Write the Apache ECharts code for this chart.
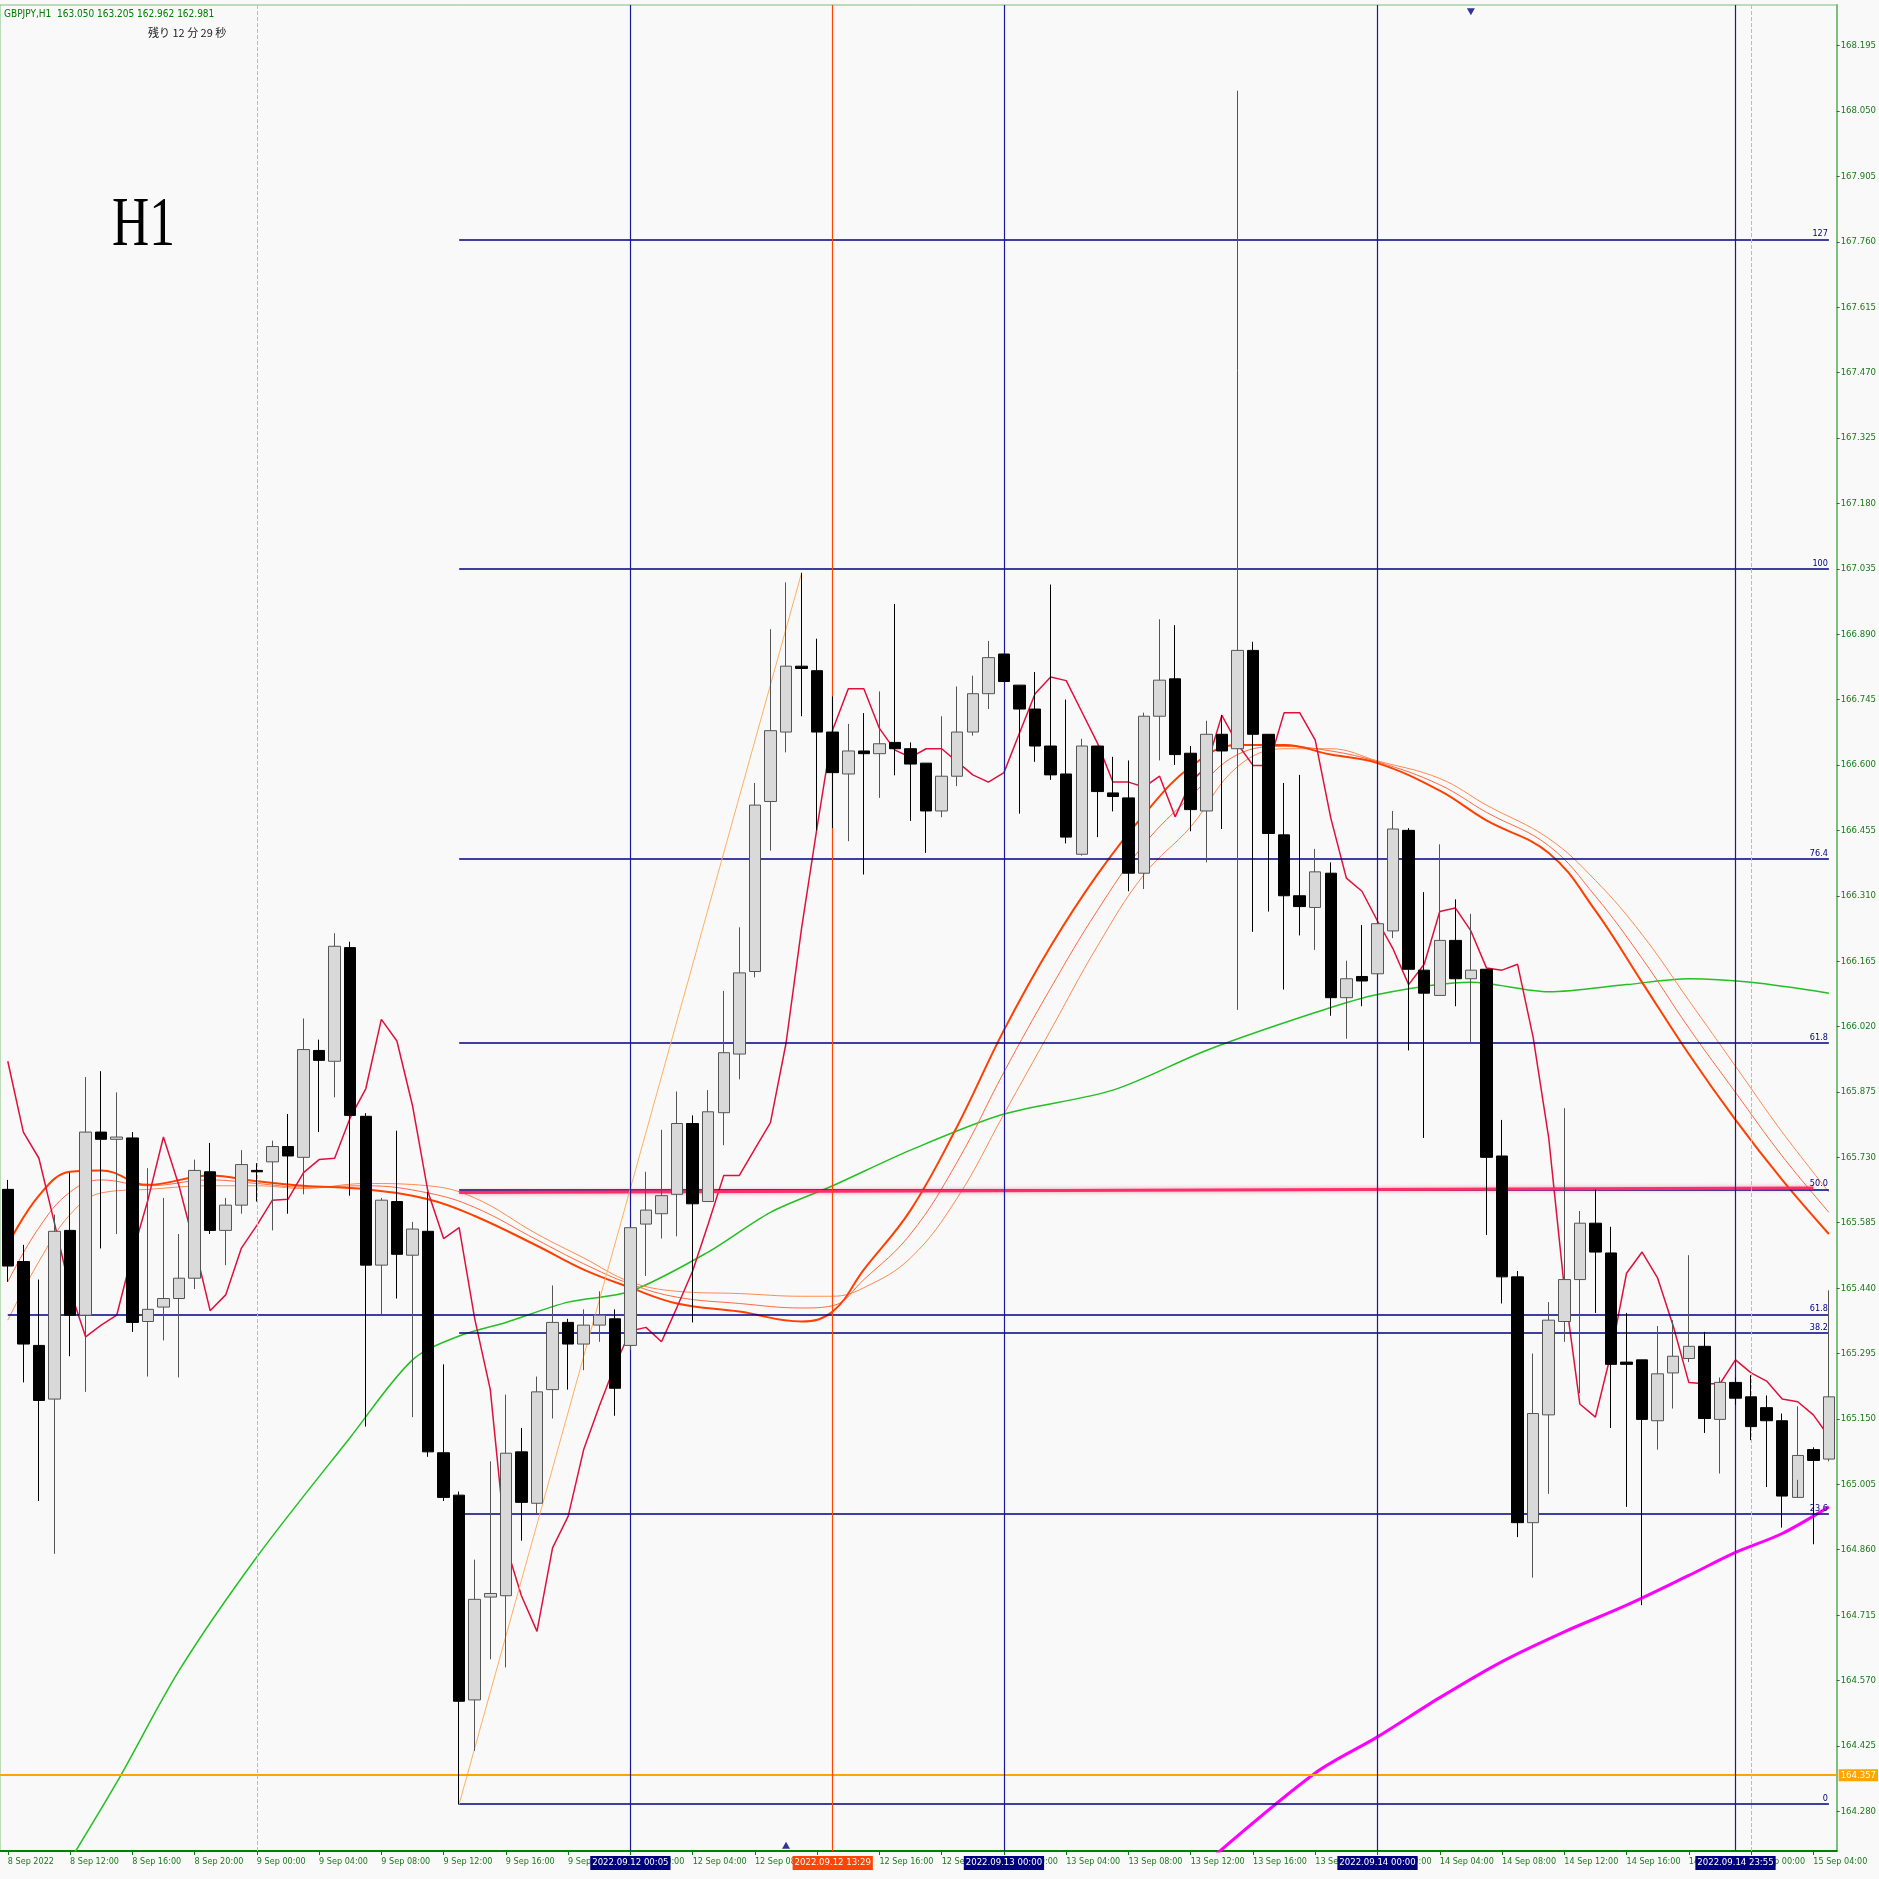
<!DOCTYPE html>
<html><head><meta charset="utf-8">
<script src="https://cdn.jsdelivr.net/npm/echarts@6/dist/echarts.min.js"></script>
<style>html,body{margin:0;padding:0;background:#f9f9f9}#c{width:1879px;height:1879px}</style>
</head><body><div id="c"></div>
<script>
const xTickLabels=["8 Sep 2022","8 Sep 12:00","8 Sep 16:00","8 Sep 20:00","9 Sep 00:00","9 Sep 04:00","9 Sep 08:00","9 Sep 12:00","9 Sep 16:00","9 Sep 20:00","12 Sep 00:00","12 Sep 04:00","12 Sep 08:00","12 Sep 12:00","12 Sep 16:00","12 Sep 20:00","13 Sep 00:00","13 Sep 04:00","13 Sep 08:00","13 Sep 12:00","13 Sep 16:00","13 Sep 20:00","14 Sep 00:00","14 Sep 04:00","14 Sep 08:00","14 Sep 12:00","14 Sep 16:00","14 Sep 20:00","15 Sep 00:00","15 Sep 04:00"];
const yTicks=[164.280,164.425,164.570,164.715,164.860,165.005,165.150,165.295,165.440,165.585,165.730,165.875,166.020,166.165,166.310,166.455,166.600,166.745,166.890,167.035,167.180,167.325,167.470,167.615,167.760,167.905,168.050,168.195];
const opens=[165.659,165.499,165.313,165.194,165.568,165.380,165.786,165.770,165.773,165.366,
165.398,165.417,165.462,165.698,165.568,165.624,165.701,165.720,165.754,165.730,
165.967,165.943,166.195,165.821,165.491,165.632,165.513,165.566,165.075,164.981,
164.527,164.755,164.758,165.077,164.963,165.215,165.364,165.316,165.358,165.372,
165.313,165.582,165.605,165.648,165.805,165.632,165.829,165.959,166.142,166.519,
166.673,166.819,166.809,166.673,166.580,166.631,166.625,166.650,166.636,166.604,
166.498,166.575,166.673,166.758,166.846,166.777,166.724,166.642,166.580,166.402,
166.642,166.538,166.527,166.360,166.708,166.791,166.626,166.498,166.668,166.636,
166.854,166.668,166.445,166.310,166.284,166.360,166.084,166.131,166.137,166.232,
166.455,166.145,166.089,166.211,166.126,166.147,165.733,165.465,164.920,165.159,
165.366,165.459,165.584,165.518,165.276,165.281,165.146,165.252,165.284,165.311,
165.149,165.231,165.199,165.175,165.146,164.976,165.082,165.061];
const closes=[165.489,165.316,165.191,165.566,165.380,165.786,165.770,165.775,165.364,165.393,
165.417,165.462,165.701,165.568,165.624,165.714,165.698,165.754,165.733,165.969,
165.945,166.198,165.823,165.491,165.635,165.515,165.571,165.077,164.976,164.524,
164.750,164.763,165.074,164.965,165.210,165.364,165.316,165.358,165.380,165.218,
165.574,165.613,165.645,165.805,165.627,165.831,165.962,166.139,166.511,166.676,
166.819,166.814,166.673,166.583,166.631,166.625,166.647,166.636,166.602,166.498,
166.575,166.673,166.758,166.838,166.785,166.724,166.642,166.578,166.440,166.642,
166.541,166.530,166.360,166.708,166.788,166.623,166.501,166.668,166.631,166.854,
166.668,166.448,166.310,166.286,166.363,166.084,166.126,166.121,166.248,166.458,
166.147,166.094,166.211,166.126,166.145,165.730,165.465,164.920,165.162,165.369,
165.459,165.584,165.520,165.271,165.271,165.149,165.250,165.289,165.311,165.151,
165.231,165.196,165.133,165.146,164.979,165.069,165.058,165.199];
const highs=[165.680,165.536,165.459,165.603,165.696,165.908,165.921,165.874,165.786,165.706,
165.640,165.560,165.725,165.762,165.640,165.746,165.717,165.767,165.826,166.038,
165.991,166.227,166.208,165.828,165.640,165.789,165.587,165.653,165.271,164.989,
164.838,165.056,165.204,165.130,165.244,165.446,165.372,165.393,165.433,165.393,
165.574,165.698,165.791,165.876,165.823,165.879,166.099,166.240,166.560,166.901,
167.005,167.026,166.880,166.752,166.691,166.715,166.763,166.957,166.650,166.604,
166.708,166.774,166.798,166.875,166.846,166.777,166.806,167.000,166.745,166.658,
166.642,166.618,166.610,166.716,166.923,166.910,166.642,166.698,166.711,168.095,
166.873,166.668,166.560,166.578,166.414,166.384,166.166,166.245,166.248,166.498,
166.460,166.318,166.424,166.302,166.270,166.147,165.813,165.478,165.295,165.409,
165.839,165.611,165.659,165.576,165.385,165.281,165.356,165.369,165.513,165.343,
165.242,165.242,165.247,165.202,165.162,165.178,165.087,165.435];
const lows=[165.454,165.231,164.968,164.851,165.289,165.210,165.528,165.560,165.343,165.244,
165.324,165.242,165.438,165.560,165.491,165.605,165.632,165.568,165.605,165.648,
165.786,165.863,165.645,165.133,165.382,165.417,165.154,165.066,164.968,164.295,
164.414,164.617,164.599,164.880,164.941,165.151,165.215,165.258,165.321,165.157,
165.303,165.467,165.550,165.555,165.364,165.632,165.757,165.903,166.129,166.410,
166.628,166.708,166.455,166.460,166.431,166.357,166.527,166.577,166.476,166.405,
166.484,166.553,166.665,166.724,166.785,166.492,166.607,166.567,166.426,166.399,
166.440,166.497,166.320,166.325,166.610,166.600,166.453,166.384,166.458,166.057,
166.230,166.275,166.102,166.222,166.190,166.044,165.993,166.065,166.137,166.216,
165.967,165.773,166.089,166.065,165.985,165.558,165.406,164.888,164.798,164.984,
165.321,165.207,165.385,165.130,164.955,164.737,165.082,165.173,165.276,165.119,
165.029,165.181,165.103,164.999,164.909,165.015,164.872,165.056];
const shortMA=[165.943,165.786,165.728,165.584,165.436,165.332,165.358,165.380,165.515,165.635,
165.775,165.667,165.534,165.390,165.425,165.528,165.579,165.635,165.637,165.696,
165.725,165.728,165.818,165.882,166.036,165.988,165.845,165.653,165.550,165.574,
165.372,165.215,164.870,164.758,164.679,164.864,164.934,165.082,165.178,165.268,
165.345,165.353,165.321,165.398,165.478,165.582,165.690,165.690,165.749,165.807,
165.983,166.238,166.463,166.678,166.769,166.769,166.681,166.633,166.617,166.636,
166.636,166.607,166.578,166.562,166.583,166.671,166.758,166.795,166.787,166.718,
166.649,166.562,166.562,166.551,166.575,166.485,166.562,166.596,166.710,166.647,
166.599,166.599,166.716,166.716,166.655,166.482,166.349,166.320,166.254,166.192,
166.113,166.158,166.275,166.283,166.232,166.150,166.145,166.158,165.996,165.773,
165.441,165.183,165.154,165.295,165.473,165.520,165.462,165.356,165.231,165.228,
165.228,165.281,165.252,165.234,165.194,165.188,165.159,165.111];
const ribbonIdx=[0,2,4,6,9,13,16,19,23,27,30,34,37,40,43,47,51,53,55,58,61,64,67,70,73,76,79,82,85,88,92,95,99,102,105,108,111,114,117];
const ribbonFast=[165.536,165.645,165.698,165.701,165.669,165.690,165.677,165.667,165.659,165.637,165.600,165.534,165.481,165.441,165.406,165.388,165.366,165.388,165.481,165.613,165.799,166.012,166.198,166.357,166.490,166.596,166.644,166.644,166.623,166.604,166.543,166.477,166.405,166.277,166.118,165.959,165.813,165.680,165.560];
const ribbonMid=[165.454,165.574,165.653,165.680,165.667,165.680,165.672,165.664,165.667,165.651,165.619,165.547,165.494,165.449,165.420,165.406,165.396,165.401,165.459,165.560,165.720,165.919,166.105,166.277,166.424,166.530,166.623,166.641,166.631,166.607,166.556,166.495,166.421,166.309,166.171,166.017,165.874,165.733,165.608];
const ribbonSlow=[165.369,165.499,165.603,165.651,165.659,165.667,165.667,165.661,165.672,165.667,165.640,165.560,165.507,165.454,165.433,165.428,165.422,165.422,165.441,165.507,165.640,165.826,166.012,166.198,166.357,166.463,166.596,166.636,166.636,166.609,166.570,166.511,166.437,166.344,166.224,166.078,165.932,165.786,165.653];
const greenIdx=[3,7,11,16,22,26,29,32,36,40,45,49,53,58,64,71,77,84,88,94,99,104,108,112,117];
const greenMA=[164.115,164.344,164.592,164.844,165.109,165.281,165.334,165.364,165.409,165.433,165.520,165.608,165.667,165.746,165.826,165.879,165.967,166.051,166.091,166.118,166.097,166.113,166.126,166.118,166.094];
const magIdx=[77,84,88,92,96,100,104,108,111,114,117];
const magentaMA=[164.166,164.365,164.445,164.532,164.612,164.678,164.737,164.803,164.854,164.896,164.955];
const fibNames=["127","100","76.4","61.8","50.0","38.2","23.6","0"];
const fibValues=[167.765,167.034,166.391,165.983,165.659,165.340,164.939,164.296];
const fullLineName="61.8", fullLineValue=165.382;
const orangeLevel=164.357;
const pinkLine=[165.652,165.662];
const vLines=[{i:40,t:"2022.09.12 00:05",c:"#1a1a9a",bg:"#000080"},{i:53,t:"2022.09.12 13:29",c:"#FF4500",bg:"#FF4500"},{i:64,t:"2022.09.13 00:00",c:"#1a1a9a",bg:"#000080"},{i:88,t:"2022.09.14 00:00",c:"#1a1a9a",bg:"#000080"},{i:111,t:"2022.09.14 23:55",c:"#1a1a9a",bg:"#000080"}];

const N=opens.length;
const cats=[];for(let i=0;i<N;i++)cats.push(String(i));
const candles=opens.map((o,i)=>[o,closes[i],lows[i],highs[i]]);
const pairs=(ix,v)=>ix.map((x,k)=>[x,v[k]]);
const FF="'DejaVu Sans Condensed','Liberation Sans Narrow',sans-serif";
const YMIN=164.192,YMAX=168.285;
const chart=echarts.init(document.getElementById('c'));
const fibData=fibNames.map((n,k)=>[{coord:['29',fibValues[k]],label:{formatter:n}},{coord:['117',fibValues[k]]}]);
fibData.push([{coord:['0',fullLineValue],label:{formatter:fullLineName}},{coord:['117',fullLineValue]}]);
chart.setOption({
 animation:false,backgroundColor:'#f9f9f9',
 grid:{left:0,right:30,top:5,bottom:28,show:true,borderColor:'#7dbf7d',borderWidth:1,backgroundColor:'#f9f9f9'},
 graphic:[
  {type:'text',left:4,top:9,style:{text:'GBPJPY,H1  163.050 163.205 162.962 162.981',fill:'#008000',font:"10px "+FF}},
  {type:'text',left:148,top:27,style:{text:'残り 12 分 29 秒',fill:'#222',font:"11px 'Noto Sans CJK JP'"}},
  {type:'text',x:112,y:192,scaleX:0.78,scaleY:1.05,style:{text:'H1',fill:'#000',font:"66px 'Liberation Serif','DejaVu Serif',serif"}}
 ],
 xAxis:{type:'category',data:cats,boundaryGap:true,
  axisLine:{lineStyle:{color:'#008000',width:2}},
  axisTick:{show:true,interval:(i)=>i%4===0,alignWithLabel:true,lineStyle:{color:'#008000'},length:4},
  axisLabel:{interval:(i)=>i%4===0,formatter:(v,i)=>xTickLabels[i/4]||'',color:'#1a7a1a',fontFamily:FF,fontSize:9,align:'left',margin:6,hideOverlap:false},
  splitLine:{show:false}},
 yAxis:{type:'value',position:'right',min:YMIN,max:YMAX,scale:true,
  axisLine:{show:true,lineStyle:{color:'#7dbf7d',width:2}},
  axisTick:{show:true,customValues:yTicks,length:3,lineStyle:{color:'#555'}},
  axisLabel:{customValues:yTicks,formatter:v=>v.toFixed(3),color:'#1a7a1a',fontFamily:FF,fontSize:9.5,margin:4},
  splitLine:{show:false}},
 series:[
  {type:'line',data:pairs(greenIdx,greenMA),symbol:'none',smooth:0.3,clip:true,lineStyle:{color:'#22c022',width:1.5},z:3},
  {type:'line',data:pairs(magIdx,magentaMA),symbol:'none',smooth:0.3,clip:true,lineStyle:{color:'#ff00ff',width:3},z:3},
  {type:'line',data:pairs(ribbonIdx,ribbonSlow),symbol:'none',smooth:0.4,lineStyle:{color:'#ff8a50',width:1},z:3},
  {type:'line',data:pairs(ribbonIdx,ribbonMid),symbol:'none',smooth:0.4,lineStyle:{color:'#ff6a40',width:1},z:3},
  {type:'line',data:pairs(ribbonIdx,ribbonFast),symbol:'none',smooth:0.4,lineStyle:{color:'#ff4000',width:2},z:3},
  {type:'line',data:[],markLine:{silent:true,symbol:'none',
    lineStyle:{color:'#000080',width:1.5,type:'solid'},
    label:{show:true,position:'insideEndTop',color:'#000080',fontSize:9,fontFamily:FF,distance:1},
    data:fibData.concat([
     [{coord:['29',pinkLine[0]],lineStyle:{color:'#ff2d6a',width:3,shadowColor:'rgba(200,0,50,0.4)',shadowBlur:4},label:{show:false}},{coord:['116',pinkLine[1]]}],
     [{coord:['29',164.296],lineStyle:{color:'#ffb060',width:1},label:{show:false}},{coord:['51',167.026]}]
    ])}},
  {type:'line',data:[],markLine:{silent:true,symbol:'none',
    data:[{yAxis:orangeLevel,lineStyle:{color:'#ffa500',width:2,type:'solid'},
      label:{show:true,position:'end',formatter:orangeLevel.toFixed(3),backgroundColor:'#ffa500',color:'#fff',fontSize:9.5,fontFamily:FF,padding:[1,2],distance:2}}]}},
  {type:'line',data:[],markLine:{silent:true,symbol:'none',
    data:[{xAxis:'16',lineStyle:{color:'#a8c8a8',type:'dashed',width:1},label:{show:false}},
          {xAxis:'112',lineStyle:{color:'#a8c8a8',type:'dashed',width:1},label:{show:false}}].concat(
     vLines.map(v=>({xAxis:String(v.i),lineStyle:{color:v.c,width:1.2,type:'solid'},
      label:{show:true,position:'start',formatter:v.t,backgroundColor:v.bg,color:'#fff',fontSize:9.5,fontFamily:FF,padding:[2,2],distance:5}})))}},
  {type:'line',data:shortMA,symbol:'none',lineStyle:{color:'#e0103c',width:1.5},z:4},
  {type:'candlestick',data:candles,barWidth:12,z:5,
   itemStyle:{color:'#d9d9d9',color0:'#000000',borderColor:'#555555',borderColor0:'#000000',borderWidth:1}},
  {type:'scatter',data:[[94,168.27]],symbol:'triangle',symbolRotate:180,symbolSize:[8,7],itemStyle:{color:'#000080'},z:6},
  {type:'scatter',data:[[50,164.205]],symbol:'triangle',symbolSize:[8,7],itemStyle:{color:'#000080'},z:6}
 ]
});
</script></body></html>
